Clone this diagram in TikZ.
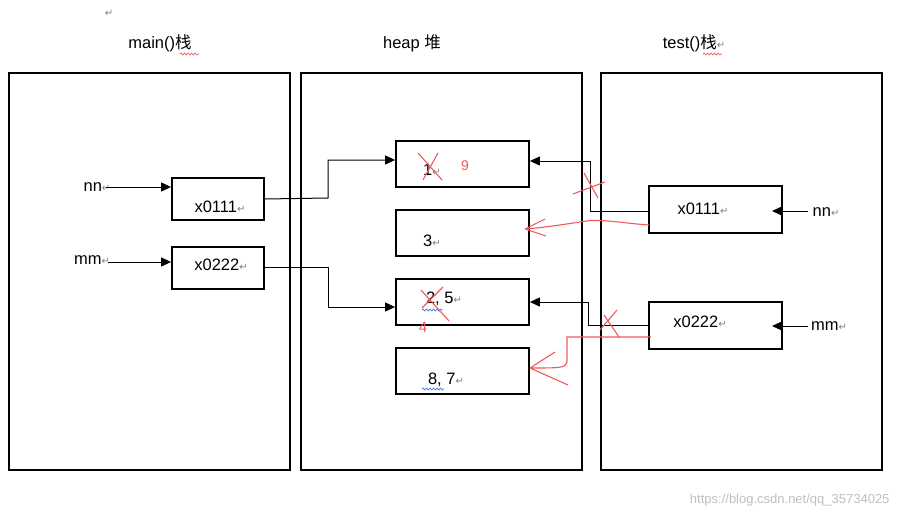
\documentclass[tikz,border=0pt]{standalone}
\usepackage{fontspec}
\setmainfont{Liberation Sans}
\newfontfamily\cjk{Noto Sans CJK SC}
\newfontfamily\djv{DejaVu Sans}
\usetikzlibrary{arrows.meta,decorations.pathmorphing}
\definecolor{pen}{RGB}{240,90,90}
\definecolor{wavy}{RGB}{60,120,230}
\newcommand{\rtn}{{\djv\color{gray}\fontsize{10}{12}\selectfont ↵}}
\begin{document}
\begin{tikzpicture}[x=1pt,y=-1pt,
  panel/.style={draw,line width=2pt},
  box/.style={draw,line width=1.8pt},
  lab/.style={font=\fontsize{16.5}{19}\selectfont,inner sep=0},
  arr/.style={-{Triangle[length=10pt,width=9pt]},line width=1pt},
  red/.style={draw=pen,line width=1.1pt},
  sq/.style={draw=wavy,line width=0.7pt,decorate,decoration={snake,amplitude=1pt,segment length=3.5pt}}]
\useasboundingbox (0,0) rectangle (901,519);
\node[lab] (r0) at (109,13) {\rtn};
\node[lab] (t1) at (160,43) {main(){\cjk 栈}};
\node[lab] (t2) at (412,43) {heap {\cjk 堆}};
\node[lab] (t3) at (694,43) {test(){\cjk 栈}\rtn};
\draw[draw=pen,line width=0.7pt,decorate,decoration={snake,amplitude=1pt,segment length=3.5pt}] (180,54)--(199,54);
\draw[draw=pen,line width=0.7pt,decorate,decoration={snake,amplitude=1pt,segment length=3.5pt}] (703,54)--(722,54);
\path[panel] (9,73) rectangle (290,470);
\path[panel] (301,73) rectangle (582,470);
\path[panel] (601,73) rectangle (882,470);
% heap boxes
\node[box,minimum width=133pt,minimum height=46pt] (h1) at (462.5,164) {};
\node[box,minimum width=133pt,minimum height=46pt] (h2) at (462.5,233) {};
\node[box,minimum width=133pt,minimum height=46pt] (h3) at (462.5,302) {};
\node[box,minimum width=133pt,minimum height=46pt] (h4) at (462.5,371) {};
\node[lab] (v1) at (432,170) {1\rtn};
\node[lab,text=pen,font=\fontsize{14}{16}\selectfont] (v9) at (465,166) {9};
\node[lab] (v3) at (432,241) {3\rtn};
\node[lab] (v2) at (444,299) {2, 5\rtn};
\node[lab,text=pen,font=\fontsize{15}{17}\selectfont] (v4) at (423,327) {4};
\node[lab] (v8) at (446,380) {8, 7\rtn};
\draw[sq] (422,310)--(443,310);
\draw[sq] (422,389)--(444,389);
\draw[red] (418,153)--(442,180) (423,180)--(438,153);
\draw[red] (421,290)--(449,321) (422,308)--(443,287);
% main boxes
\node[box,minimum width=92pt,minimum height=42pt] (m1) at (218,199) {};
\node[box,minimum width=92pt,minimum height=42pt] (m2) at (218,268) {};
\node[lab] at (220,207) {x0111\rtn};
\node[lab] at (221,265) {x0222\rtn};
\node[lab] (nn1) at (97,187) {nn\rtn};
\node[lab] (mm1) at (92,260) {mm\rtn};
\coordinate (a1) at (106,187);
\coordinate (a2) at (108,262);
\draw[arr] (a1) -- (m1.west|-a1);
\draw[arr] (a2) -- (m2.west|-a2);
\draw[arr] (m1.east) -- (328,198) -- (328,160) -- (h1.west|-0,160);
\draw[arr] (m2.east|-0,267) -- (328,267) -- (328,307) -- (h3.west|-0,307);
% test boxes
\node[box,minimum width=133pt,minimum height=47pt] (s1) at (715.5,209.5) {};
\node[box,minimum width=133pt,minimum height=47pt] (s2) at (715.5,325.5) {};
\node[lab] at (703,209) {x0111\rtn};
\node[lab] at (700,322) {x0222\rtn};
\node[lab] (nn2) at (826,212) {nn\rtn};
\node[lab] (mm2) at (829,326) {mm\rtn};
\coordinate (b1) at (808,211);
\coordinate (b2) at (808,326);
\draw[arr] (b1) -- (772,211);
\draw[arr] (b2) -- (772,326);
\draw[arr] (s1.west|-0,211) -- (590,211) -- (590,161) -- (h1.east|-0,161);
\draw[arr] (s2.west|-0,325) -- (588,325) -- (588,302) -- (h3.east|-0,302);
% red pen marks
\draw[red] (573,194)--(605,182) (584,173)--(598,198);
\draw[red] (600,330)--(617,310) (604,315)--(619,337);
\draw[red] (649,225) .. controls (620,223) and (600,218) .. (580,222) .. controls (560,225) and (540,228) .. (525,229)
  (525,229)--(545,219) (525,229)--(546,236);
\draw[red] (651,337) -- (567,337) -- (567,362) .. controls (566,368) and (560,368) .. (530,368)
  (530,368)--(555,352) (530,368)--(568,385);
\node[text=gray!50,font=\fontsize{13}{15}\selectfont,anchor=east] (wm) at (893,500) {https://blog.csdn.net/qq\_35734025};
\end{tikzpicture}
\end{document}
